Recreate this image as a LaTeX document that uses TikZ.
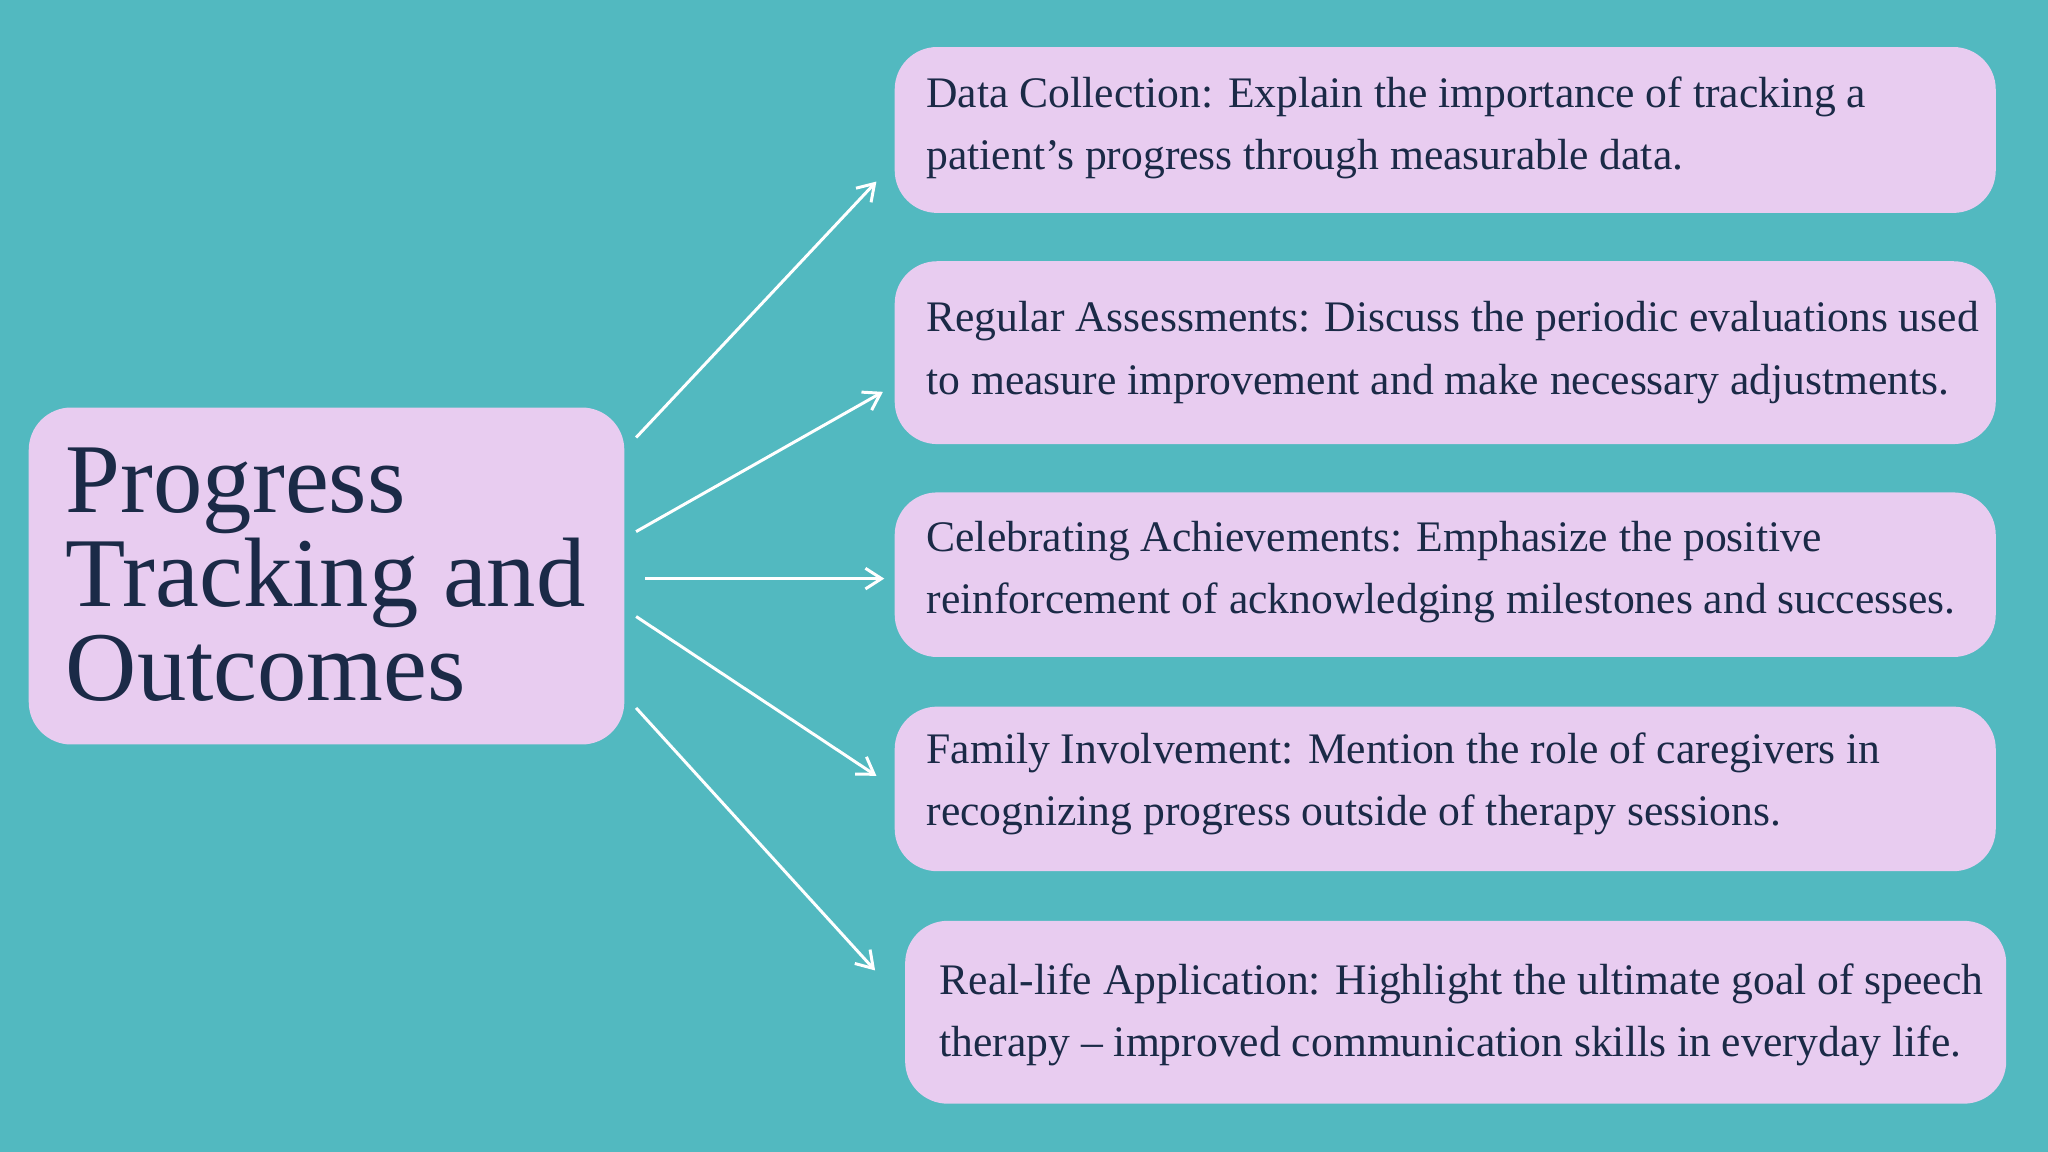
\documentclass[tikz,border=0pt]{standalone}
\usepackage{fontspec}
\setmainfont{Liberation Serif}
\usetikzlibrary{arrows.meta}
\definecolor{bg}{HTML}{52B9C0}
\definecolor{boxc}{HTML}{E8CCF0}
\definecolor{ink}{HTML}{1B2A47}
\begin{document}
\begin{tikzpicture}[x=0.02cm,y=-0.02cm,
 box/.style={fill=boxc,rounded corners=0.65cm},
 txt/.style={anchor=west,align=left,text=ink,font=\fontsize{19}{27.2}\selectfont,inner sep=0},
 arr/.style={draw=white,line width=1.3pt,-{Straight Barb[length=7pt,width=9pt]}}]
\fill[bg] (0,0) rectangle (1568,882);
\useasboundingbox (0,0) rectangle (1568,882);
\fill[box] (22,312) rectangle (478,570);
\node[txt,font=\fontsize{43}{41}\selectfont] (main) at (50,440) {Progress\\Tracking and\\Outcomes};
\fill[box] (685,36) rectangle (1528,163);
\fill[box] (685,200) rectangle (1528,340);
\fill[box] (685,377) rectangle (1528,503);
\fill[box] (685,541) rectangle (1528,667);
\fill[box] (693,705) rectangle (1536,845);
\node[txt] (t1) at (709,98) {Data Collection: Explain the importance of tracking a\\patient's progress through measurable data.};
\node[txt] (t2) at (709,270) {Regular Assessments: Discuss the periodic evaluations used\\to measure improvement and make necessary adjustments.};
\node[txt] (t3) at (709,438) {Celebrating Achievements: Emphasize the positive\\reinforcement of acknowledging milestones and successes.};
\node[txt] (t4) at (709,600) {Family Involvement: Mention the role of caregivers in\\recognizing progress outside of therapy sessions.};
\node[txt] (t5) at (719,777) {Real-life Application: Highlight the ultimate goal of speech\\therapy -- improved communication skills in everyday life.};
\coordinate (s1) at (487,335); \coordinate (e1) at (671,139);
\coordinate (s2) at (487,407); \coordinate (e2) at (676,300);
\coordinate (s3) at (494,443); \coordinate (e3) at (677,443);
\coordinate (s4) at (487,472); \coordinate (e4) at (671,594);
\coordinate (s5) at (487,542); \coordinate (e5) at (670,743);
\foreach \i in {1,...,5} \draw[arr] (s\i) -- (e\i);
\end{tikzpicture}
\end{document}
